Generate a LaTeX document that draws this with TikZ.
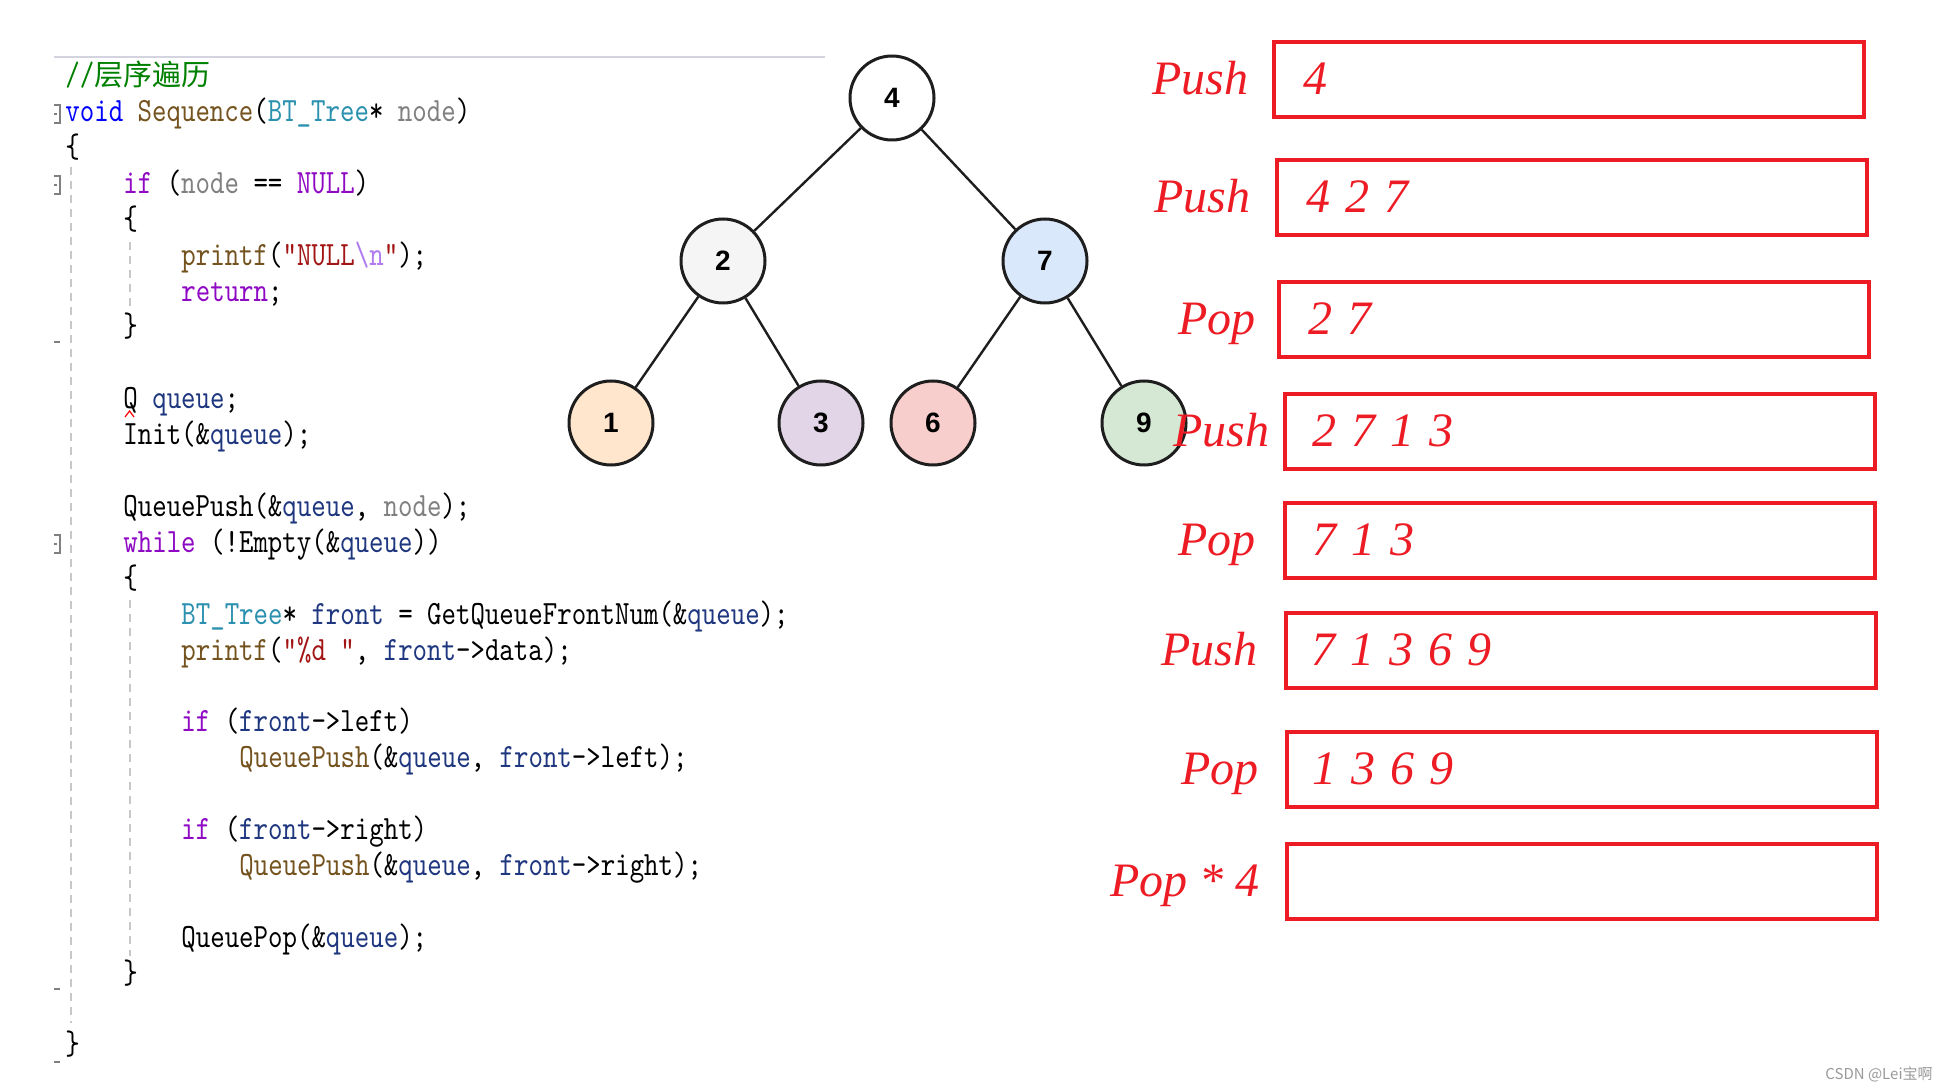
\documentclass[tikz,border=0pt]{standalone}
\usepackage{fontspec}
\setmainfont{Liberation Serif}
\newfontfamily\codefont{lmmono10-regular.otf}[FakeStretch=0.81]
\newfontfamily\cjkfont{Noto Sans CJK SC}
\newfontfamily\nodefont{Liberation Sans}
\newfontfamily\stackfont{Liberation Serif}[WordSpace=1.25]
\usetikzlibrary{calc}
\usetikzlibrary{positioning}
\definecolor{kwblue}{HTML}{0000FF}
\definecolor{fnbrown}{HTML}{74531F}
\definecolor{tyteal}{HTML}{2B91AF}
\definecolor{pargray}{HTML}{808080}
\definecolor{ctlpurple}{HTML}{8F08C4}
\definecolor{varnavy}{HTML}{1F377F}
\definecolor{strred}{HTML}{A31515}
\definecolor{esclilac}{HTML}{B07CF0}
\definecolor{comgreen}{HTML}{008000}
\definecolor{boxred}{HTML}{ED1C24}
\definecolor{guidegray}{HTML}{C8C8C8}
\definecolor{rulegray}{HTML}{D4D4E0}
\definecolor{treeline}{HTML}{1E1E1E}
\definecolor{fillgray}{HTML}{F5F5F5}
\definecolor{fillblue}{HTML}{DAE8FC}
\definecolor{fillorange}{HTML}{FFE6CC}
\definecolor{fillpurple}{HTML}{E1D5E7}
\definecolor{fillred}{HTML}{F8CECC}
\definecolor{fillgreen}{HTML}{D5E8D4}
\newcommand{\ckw}[1]{\textcolor{kwblue}{#1}}
\newcommand{\cfn}[1]{\textcolor{fnbrown}{#1}}
\newcommand{\cty}[1]{\textcolor{tyteal}{#1}}
\newcommand{\cpar}[1]{\textcolor{pargray}{#1}}
\newcommand{\cctl}[1]{\textcolor{ctlpurple}{#1}}
\newcommand{\cvar}[1]{\textcolor{varnavy}{#1}}
\newcommand{\cstr}[1]{\textcolor{strred}{#1}}
\newcommand{\cesc}[1]{\textcolor{esclilac}{#1}}

\begin{document}
\begin{tikzpicture}[x=0.5pt,y=-0.5pt,
  codeline/.style={anchor=base west,inner sep=0pt,font=\codefont\fontsize{17pt}{20pt}\selectfont},
  treenode/.style={circle,draw=treeline,line width=1.5pt,minimum size=42pt,inner sep=0pt,font=\nodefont\bfseries\fontsize{14pt}{16pt}\selectfont},
  stackbox/.style={draw=boxred,line width=2pt,anchor=north west,minimum width=295pt,minimum height=37.5pt,inner sep=0pt},
  oplabel/.style={anchor=base east,inner sep=0pt,text=boxred,font=\itshape\fontsize{24pt}{28pt}\selectfont},
  stackitem/.style={anchor=base west,inner sep=0pt,text=boxred,font=\stackfont\itshape\fontsize{24pt}{28pt}\selectfont},
  guide/.style={draw=guidegray,line width=0.75pt,dash pattern=on 4pt off 3pt},
  fold/.style={draw=pargray,line width=0.75pt}]
\fill[white] (0,0) rectangle (1948,1090);
\useasboundingbox (0,0) rectangle (1948,1090);

% editor margin
\draw[rulegray,line width=0.75pt] (54,57) -- (825,57);
\draw[guide] (71,167) -- (71,1023);
\draw[guide] (130,242) -- (130,306);
\draw[guide] (130,600) -- (130,956);
\draw[fold] (54,105) -- (60,105) -- (60,123) -- (54,123) (54,114) -- (57,114);
\draw[fold] (54,176) -- (60,176) -- (60,194) -- (54,194) (54,185) -- (57,185);
\draw[fold] (54,535) -- (60,535) -- (60,553) -- (54,553) (54,544) -- (57,544);
\draw[fold,line width=1pt] (54,342) -- (60,342) (54,989) -- (60,989) (54,1062) -- (60,1062);
\draw[red,line width=0.6pt] (125,417) -- (129.5,411) -- (134,417);

% code
\path
(65,86) node(c0) [codeline] {\textcolor{comgreen}{//{\cjkfont\fontsize{14.5pt}{16pt}\selectfont 层序遍历}}}
(65,121.6) node(c1) [codeline] {\ckw{void} \cfn{Sequence}(\cty{BT\_Tree}* \cpar{node})}
(65,157.5) node(c2) [codeline] {\{}
(123,193.4) node(c3) [codeline] {\cctl{if} (\cpar{node} == \cctl{NULL})}
(123,229.3) node(c4) [codeline] {\{}
(181,265.2) node(c5) [codeline] {\cfn{printf}(\cstr{”NULL}\cesc{\textbackslash n}\cstr{”});}
(181,301.1) node(c6) [codeline] {\cctl{return};}
(123,337.0) node(c7) [codeline] {\}}
(123,408.7) node(c9) [codeline] {Q \cvar{queue};}
(123,444.6) node(c10) [codeline] {Init(\&\cvar{queue});}
(123,516.4) node(c12) [codeline] {QueuePush(\&\cvar{queue}, \cpar{node});}
(123,552.3) node(c13) [codeline] {\cctl{while} (!Empty(\&\cvar{queue}))}
(123,588.2) node(c14) [codeline] {\{}
(181,624.1) node(c15) [codeline] {\cty{BT\_Tree}* \cvar{front} = GetQueueFrontNum(\&\cvar{queue});}
(181,660.0) node(c16) [codeline] {\cfn{printf}(\cstr{”\%d ”}, \cvar{front}->data);}
(181,731.8) node(c18) [codeline] {\cctl{if} (\cvar{front}->left)}
(239,767.7) node(c19) [codeline] {\cfn{QueuePush}(\&\cvar{queue}, \cvar{front}->left);}
(181,839.5) node(c21) [codeline] {\cctl{if} (\cvar{front}->right)}
(239,875.4) node(c22) [codeline] {\cfn{QueuePush}(\&\cvar{queue}, \cvar{front}->right);}
(181,947.2) node(c24) [codeline] {QueuePop(\&\cvar{queue});}
(123,983.1) node(c25) [codeline] {\}}
(65,1054.9) node(c27) [codeline] {\}};

% tree
\path
(892,98) node(n4) [treenode,fill=white] {4}
(723,261) node(n2) [treenode,fill=fillgray] {2}
(1045,261) node(n7) [treenode,fill=fillblue] {7}
(611,423) node(n1) [treenode,fill=fillorange] {1}
(821,423) node(n3) [treenode,fill=fillpurple] {3}
(933,423) node(n6) [treenode,fill=fillred] {6}
(1144,423) node(n9) [treenode,fill=fillgreen] {9};
\draw[treeline,line width=1.2pt]
(n4) edge (n2)
(n4) edge (n7)
(n2) edge (n1)
(n2) edge (n3)
(n7) edge (n6)
(n7) edge (n9);

% queue states
\path
(1272,40) node(b1) [stackbox] {}
(1275,158) node(b2) [stackbox] {}
(1277,280) node(b3) [stackbox] {}
(1283,392) node(b4) [stackbox] {}
(1283,501) node(b5) [stackbox] {}
(1284,611) node(b6) [stackbox] {}
(1285,730) node(b7) [stackbox] {}
(1285,842) node(b8) [stackbox] {};
\node(l1) [oplabel] at ($(b1.west)+(-23,15)$) {Push};
\node(l2) [oplabel] at ($(b2.west)+(-24,15)$) {Push};
\node(l3) [oplabel] at ($(b3.west)+(-21,15)$) {Pop};
\node(l4) [oplabel] at ($(b4.west)+(-13,15)$) {Push};
\node(l5) [oplabel] at ($(b5.west)+(-27,15)$) {Pop};
\node(l6) [oplabel] at ($(b6.west)+(-26,15)$) {Push};
\node(l7) [oplabel] at ($(b7.west)+(-26,15)$) {Pop};
\node(l8) [oplabel] at ($(b8.west)+(-25,15)$) {Pop * 4};
\node(q1) [stackitem] at ($(b1.west)+(31,15)$) {4};
\node(q2) [stackitem] at ($(b2.west)+(31,15)$) {4 2 7};
\node(q3) [stackitem] at ($(b3.west)+(31,15)$) {2 7};
\node(q4) [stackitem] at ($(b4.west)+(29,15)$) {2 7 1 3};
\node(q5) [stackitem] at ($(b5.west)+(29,15)$) {7 1 3};
\node(q6) [stackitem] at ($(b6.west)+(27,15)$) {7 1 3 6 9};
\node(q7) [stackitem] at ($(b7.west)+(27,15)$) {1 3 6 9};

\node(wm) [anchor=east,inner sep=0pt,text=pargray!80,font=\cjkfont\fontsize{7.5pt}{9pt}\selectfont] at (1933,1074) {CSDN @Lei宝啊};
\end{tikzpicture}
\end{document}
